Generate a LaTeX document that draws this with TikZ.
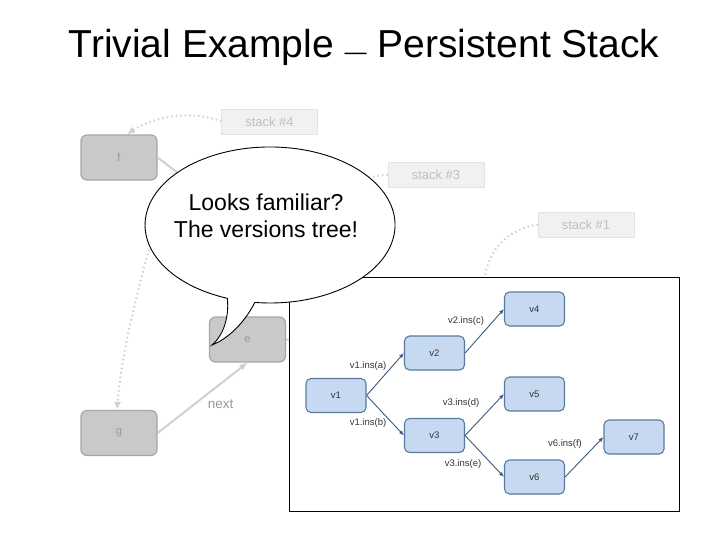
\documentclass[tikz,border=0pt]{standalone}
\usepackage{fontspec}
\setmainfont{Liberation Sans}
\usetikzlibrary{arrows.meta, positioning}

\definecolor{grayfill}{HTML}{C9C9C9}
\definecolor{grayline}{HTML}{A6A6A6}
\definecolor{graytext}{HTML}{999999}
\definecolor{tagfill}{HTML}{F1F1F1}
\definecolor{tagline}{HTML}{E3E3E3}
\definecolor{tagtext}{HTML}{BFBFBF}
\definecolor{dotgray}{HTML}{D0D0D0}
\definecolor{verfill}{HTML}{C6D9F0}
\definecolor{verline}{HTML}{5A7AA0}
\definecolor{verarrow}{HTML}{3B5B82}

\begin{document}
\begin{tikzpicture}[
    x=1pt, y=-1pt,
    gray_node/.style={draw=grayline, fill=grayfill, rounded corners=6pt, line width=1.2pt, minimum width=76pt, minimum height=45pt, text=graytext, font=\fontsize{11}{13}\selectfont},
    stack_tag/.style={draw=tagline, fill=tagfill, minimum width=96pt, minimum height=25pt, text=tagtext, font=\fontsize{13}{15}\selectfont},
    ptr_dots/.style={-{Latex[length=8pt, width=7pt]}, draw=dotgray, line width=2pt, dash pattern=on 1.5pt off 3pt},
    ptr_line/.style={-{Latex[length=8pt, width=7pt]}, draw=dotgray, line width=2pt},
    ver/.style={draw=verline, fill=verfill, rounded corners=5pt, line width=1.1pt, minimum width=60pt, minimum height=34pt, text=black!80, font=\fontsize{9.5}{11}\selectfont},
    ver_arrow/.style={-{Latex[length=5pt, width=4pt]}, draw=verarrow, line width=0.9pt},
    ver_label/.style={text=black!80, font=\fontsize{9.5}{11}\selectfont, inner sep=1pt},
    bubble/.style={draw=black, fill=white, line width=0.9pt}
]
    \useasboundingbox[fill=white] (0,0) rectangle (728,546);

    % Title
    \node[anchor=base, font=\fontsize{39}{45}\selectfont] (title) at (364,57)
        {Trivial Example {\fontsize{22}{22}\selectfont\raisebox{-2.5pt}{—}} Persistent Stack};

    % Stack nodes (faded)
    \node[gray_node] (f) at (119,157.5) {f};
    \node[gray_node] (e) at (247.5,339.5) {e};
    \node[gray_node] (g) at (119,433) {g};

    \node[stack_tag] (stack4) at (269.5,121.5) {stack \#4};
    \node[stack_tag] (stack3) at (436,174.5) {stack \#3};
    \node[stack_tag] (stack1) at (586,224.5) {stack \#1};

    % Hidden ends (under bubble and box)
    \coordinate (f_end) at (220,205);
    \coordinate (s3_end) at (330,190);
    \coordinate (s2_start) at (150,245);
    \coordinate (s1_end) at (484,295);
    \coordinate (e_end) at (320,340);

    % Pointers
    \draw[ptr_dots] (stack4.west) .. controls +(-35,-14) and +(20,-14) .. ([xshift=8pt]f.north);
    \draw[ptr_dots, -] (stack3.west) .. controls +(-20,2) and +(20,-8) .. (s3_end);
    \draw[ptr_dots, -] (stack1.west) .. controls +(-38,6) and +(-2,-35) .. (s1_end);
    \draw[ptr_dots] (s2_start) .. controls +(-12,45) and +(5,-60) .. ([xshift=-2pt]g.north);
    \draw[ptr_line, -] (f.east) -- (f_end);
    \draw[ptr_line, -] (e.east) -- (e_end);
    \draw[ptr_line] (g.east) -- node[pos=0.7, yshift=-20pt, text=graytext, font=\fontsize{13.5}{15}\selectfont] {next} (e.south);

    % Versions tree
    \node[draw=black, fill=white, line width=1pt, minimum width=390pt, minimum height=234pt] (inset) at (484,394) {};

    \node[ver] (v1) at (336,395.5) {v1};
    \node[ver] (v2) at (434.5,353) {v2};
    \node[ver] (v3) at (434.5,435.5) {v3};
    \node[ver] (v4) at (534.5,309) {v4};
    \node[ver] (v5) at (534.5,394) {v5};
    \node[ver] (v6) at (534.5,477) {v6};
    \node[ver] (v7) at (634,437) {v7};

    \draw[ver_arrow] (v1.east) -- (v2.west);
    \draw[ver_arrow] (v1.east) -- (v3.west);
    \draw[ver_arrow] (v2.east) -- (v4.west);
    \draw[ver_arrow] (v3.east) -- (v5.west);
    \draw[ver_arrow] (v3.east) -- (v6.west);
    \draw[ver_arrow] (v6.east) -- (v7.west);

    \node[ver_label] (ins_a) at (368,366) {v1.ins(a)};
    \node[ver_label] (ins_b) at (368,423) {v1.ins(b)};
    \node[ver_label] (ins_c) at (466,321) {v2.ins(c)};
    \node[ver_label] (ins_d) at (461,403) {v3.ins(d)};
    \node[ver_label] (ins_e) at (463,464) {v3.ins(e)};
    \node[ver_label] (ins_f) at (565,444) {v6.ins(f)};

    % Speech bubble
    \draw[bubble] (254.8,302.4) arc[start angle=97, end angle=-250, x radius=125, y radius=78]
        .. controls (229,312) and (226,333) .. (212,345)
        .. controls (232,337) and (247,318) .. cycle;
    \node[align=center, font=\fontsize{23}{27}\selectfont] (quote) at (266,216)
        {Looks familiar?\\The versions tree!};

\end{tikzpicture}
\end{document}
